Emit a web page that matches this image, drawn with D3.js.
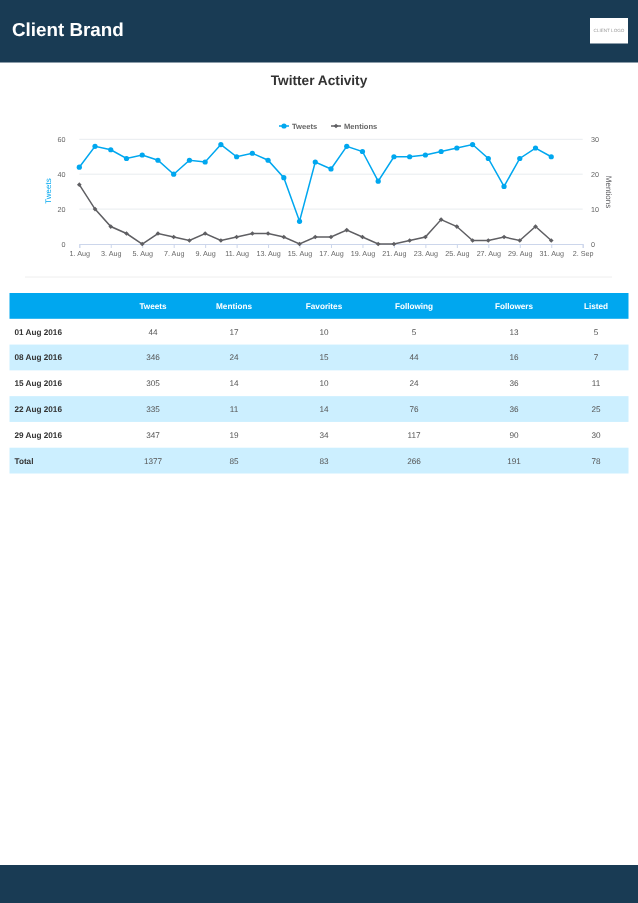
<!DOCTYPE html>
<html>
<head>
<meta charset="utf-8">
<script src="https://cdn.jsdelivr.net/npm/d3@7"></script>
<style>
  html, body { margin: 0; padding: 0; background: #fff; overflow: hidden; }
  svg { will-change: transform; text-rendering: geometricPrecision; }
  text { font-family: "Liberation Sans", Arial, sans-serif; }
</style>
</head>
<body>
<div id="page"></div>
<script>
// chart values
const days = d3.range(0, 31).map(i => new Date(Date.UTC(2016, 7, 1 + i)));
const tweets = [44,56,54,49,51,48,40,48,47,57,50,52,48,38,13,47,43,56,53,36,50,50,51,53,55,57,49,33,49,55,50];
const mentions = [17,10,5,3,0,3,2,1,3,1,2,3,3,2,0,2,2,4,2,0,0,1,2,7,5,1,1,2,1,5,1];
const tweetTicks = [0,20,40,60];
const mentionTicks = [0,10,20,30];

// table values
const tableHead = ["", "Tweets", "Mentions", "Favorites", "Following", "Followers", "Listed"];
const rowNames = ["01 Aug 2016","08 Aug 2016","15 Aug 2016","22 Aug 2016","29 Aug 2016","Total"];
const tableRows = [
  [44,17,10,5,13,5],
  [346,24,15,44,16,7],
  [305,14,10,24,36,11],
  [335,11,14,76,36,25],
  [347,19,34,117,90,30],
  [1377,85,83,266,191,78]
];
const colCenters = [153,234,324,414,514,596];

const navy = "#193b54", blue = "#00a7ef", grey = "#5f5f63";

const svg = d3.select("#page").append("svg")
  .attr("width", 638).attr("height", 903).style("display", "block");

// header + footer bands
svg.append("rect").attr("width", 638).attr("height", 62.5).attr("fill", navy);
svg.append("rect").attr("y", 865).attr("width", 638).attr("height", 38).attr("fill", navy);
svg.append("text").attr("x", 12).attr("y", 36).attr("fill", "#fff")
  .attr("font-size", 18.8).attr("font-weight", "bold").text("Client Brand");
svg.append("rect").attr("x", 590).attr("y", 18).attr("width", 38).attr("height", 25.5).attr("fill", "#fff");
svg.append("text").attr("x", 609).attr("y", 32).attr("text-anchor", "middle")
  .attr("fill", "#9a9a9a").attr("font-size", 4.6).text("CLIENT LOGO");

svg.append("text").attr("x", 319).attr("y", 85).attr("text-anchor", "middle")
  .attr("fill", "#333").attr("font-size", 13.7).attr("font-weight", "bold").text("Twitter Activity");

// scales
const x = d3.scaleUtc().domain([new Date(Date.UTC(2016,7,1)), new Date(Date.UTC(2016,8,2))]).range([79.3, 582.7]);
const yL = d3.scaleLinear().domain([0,60]).range([244,139.3]);
const yR = d3.scaleLinear().domain([0,30]).range([244,139.3]);

// grid
svg.append("g").selectAll("line").data(tweetTicks.slice(1)).join("line")
  .attr("x1", 79.3).attr("x2", 582.7)
  .attr("y1", d => yL(d)).attr("y2", d => yL(d))
  .attr("stroke", "#e8ecef").attr("stroke-width", 1);

// x axis
const xTicks = d3.range(0, 17).map(i => new Date(Date.UTC(2016, 7, 1 + i * 2)));
const fmtDay = d3.utcFormat("%-d. %b");
const xAxis = svg.append("g").attr("transform", "translate(0,244)")
  .call(d3.axisBottom(x).tickValues(xTicks).tickFormat(fmtDay).tickSize(4).tickPadding(3));
xAxis.selectAll("path, line").attr("stroke", "#ccd6eb");
xAxis.selectAll("text").attr("fill", "#666").attr("font-size", 7.2)
  .style("font-family", '"Liberation Sans", Arial, sans-serif');

// y axes
const leftAxis = svg.append("g").attr("transform", "translate(65.5,0)")
  .call(d3.axisLeft(yL).tickValues(tweetTicks).tickSize(0).tickPadding(0));
const rightAxis = svg.append("g").attr("transform", "translate(591,0)")
  .call(d3.axisRight(yR).tickValues(mentionTicks).tickSize(0).tickPadding(0));
[leftAxis, rightAxis].forEach(a => {
  a.select("path").remove();
  a.selectAll("text").attr("fill", "#666").attr("font-size", 7.2)
    .style("font-family", '"Liberation Sans", Arial, sans-serif');
});

svg.append("text").attr("transform", "translate(50.5,191) rotate(-90)")
  .attr("text-anchor", "middle").attr("fill", blue).attr("font-size", 8).text("Tweets");
svg.append("text").attr("transform", "translate(606,192) rotate(90)")
  .attr("text-anchor", "middle").attr("fill", grey).attr("font-size", 8).text("Mentions");

// series
const lineL = d3.line().x((d, i) => x(days[i])).y(d => yL(d));
const lineR = d3.line().x((d, i) => x(days[i])).y(d => yR(d));
svg.append("path").datum(tweets).attr("d", lineL).attr("fill", "none").attr("stroke", blue).attr("stroke-width", 1.5);
svg.append("path").datum(mentions).attr("d", lineR).attr("fill", "none").attr("stroke", grey).attr("stroke-width", 1.5);

svg.append("g").selectAll("circle").data(tweets).join("circle")
  .attr("cx", (d, i) => x(days[i])).attr("cy", d => yL(d)).attr("r", 2.6).attr("fill", blue);

const diamond = d3.symbol().type(d3.symbolDiamond2).size(14);
svg.append("g").selectAll("path").data(mentions).join("path")
  .attr("d", diamond)
  .attr("transform", (d, i) => `translate(${x(days[i])},${yR(d)})`)
  .attr("fill", grey);

// legend
const legend = svg.append("g").attr("font-size", 7.6).attr("font-weight", "bold").attr("fill", "#666");
legend.append("line").attr("x1", 279).attr("x2", 289).attr("y1", 126).attr("y2", 126).attr("stroke", blue).attr("stroke-width", 1.5);
legend.append("circle").attr("cx", 284).attr("cy", 126).attr("r", 2.6).attr("fill", blue);
legend.append("text").attr("x", 292).attr("y", 128.7).text("Tweets");
legend.append("line").attr("x1", 331).attr("x2", 341).attr("y1", 126).attr("y2", 126).attr("stroke", grey).attr("stroke-width", 1.5);
legend.append("path").attr("d", diamond).attr("transform", "translate(336,126)").attr("fill", grey);
legend.append("text").attr("x", 344).attr("y", 128.7).text("Mentions");

// rule under the chart
svg.append("line").attr("x1", 25).attr("x2", 612).attr("y1", 277).attr("y2", 277)
  .attr("stroke", "#eeeeee").attr("stroke-width", 1);

// table
const tableLeft = 9.5, tableWidth = 619;
const rowY = d3.scaleBand().domain(d3.range(0, 7)).range([293, 473.5]);
svg.append("rect").attr("x", tableLeft).attr("y", rowY(0)).attr("width", tableWidth).attr("height", rowY.bandwidth()).attr("fill", blue);
svg.append("g").selectAll("text").data(tableHead.slice(1)).join("text")
  .attr("x", (d, i) => colCenters[i]).attr("y", rowY(0) + rowY.bandwidth() / 2 + 3)
  .attr("text-anchor", "middle").attr("fill", "#fff").attr("font-size", 8.2).attr("font-weight", "bold")
  .text(d => d);

tableRows.forEach((row, r) => {
  const y0 = rowY(r + 1);
  if (r % 2 === 1) {
    svg.append("rect").attr("x", tableLeft).attr("y", y0).attr("width", tableWidth).attr("height", rowY.bandwidth()).attr("fill", "#ccefff");
  }
  svg.append("text").attr("x", 14.5).attr("y", y0 + rowY.bandwidth() / 2 + 3)
    .attr("fill", "#333").attr("font-size", 8.2).attr("font-weight", "bold").text(rowNames[r]);
  svg.append("g").selectAll("text").data(row).join("text")
    .attr("x", (d, i) => colCenters[i]).attr("y", y0 + rowY.bandwidth() / 2 + 3)
    .attr("text-anchor", "middle").attr("fill", "#555").attr("font-size", 8.2)
    .text(d => d);
});
</script>
</body>
</html>
